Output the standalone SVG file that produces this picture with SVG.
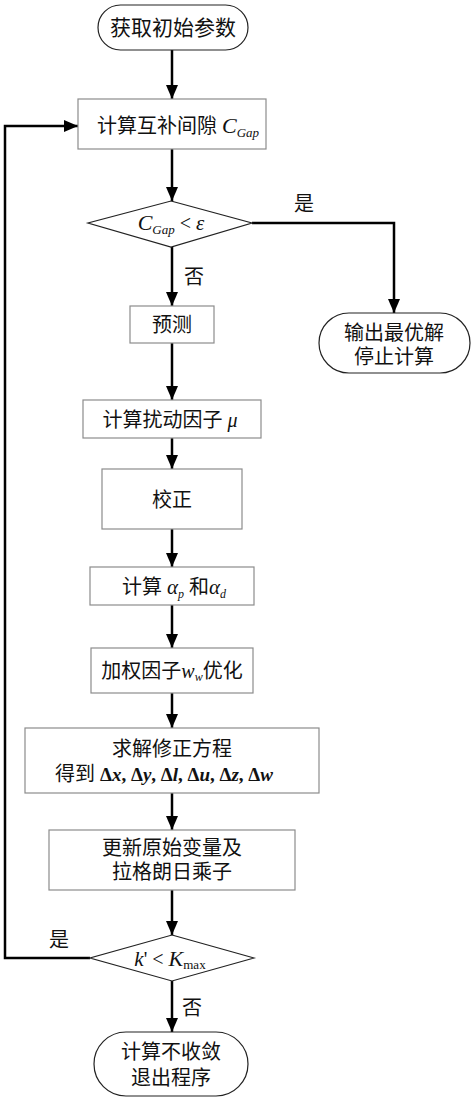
<svg xmlns="http://www.w3.org/2000/svg" width="474" height="1102" viewBox="0 0 474 1102">
<style>
text{font-family:"Liberation Serif","Noto Sans CJK SC",serif;font-size:20px;fill:#111;text-anchor:middle}
.m{font-style:italic}
.sub{font-size:12px;font-style:italic}
.box{fill:#fff;stroke:#8c8c8c;stroke-width:1.2}
.term{fill:#fff;stroke:#222;stroke-width:1.2}
.dia{fill:#fff;stroke:#222;stroke-width:1.2}
.c{fill:none;stroke:#000;stroke-width:2.5;marker-end:url(#a)}
</style>
<defs>
<marker id="a" markerUnits="userSpaceOnUse" markerWidth="14" markerHeight="12" refX="14" refY="6" orient="auto">
<path d="M0,0 L14,6 L0,12 z" fill="#000"/>
</marker>
</defs>
<rect width="474" height="1102" fill="#fff"/>
<g id="connectors">
<line class="c" x1="172" y1="50" x2="172" y2="99"/>
<line class="c" x1="172" y1="149" x2="172" y2="201"/>
<line class="c" x1="172" y1="247" x2="172" y2="306"/>
<polyline class="c" points="252,223 394,223 394,313"/>
<line class="c" x1="172" y1="343" x2="172" y2="400"/>
<line class="c" x1="172" y1="438" x2="172" y2="469"/>
<line class="c" x1="172" y1="529" x2="172" y2="567"/>
<line class="c" x1="172" y1="605" x2="172" y2="648"/>
<line class="c" x1="172" y1="693" x2="172" y2="728"/>
<line class="c" x1="172" y1="793" x2="172" y2="830"/>
<line class="c" x1="172" y1="890" x2="172" y2="935"/>
<polyline class="c" points="90,958 5,958 5,126 78,126"/>
<line class="c" x1="172" y1="981" x2="172" y2="1032"/>
<text x="304" y="211">是</text>
<text x="194" y="284">否</text>
<text x="59" y="947">是</text>
<text x="192" y="1015">否</text>
</g>
<g id="start">
<rect class="term" x="98" y="5" width="150" height="45" rx="22.5"/>
<text x="173" y="35" style="font-size:21px">获取初始参数</text>
</g>
<g id="gap">
<rect class="box" x="78" y="99" width="188" height="50"/>
<text x="178" y="133">计算互补间隙 <tspan class="m" style="font-size:22px">C</tspan><tspan class="sub" dy="4" style="font-size:13px">Gap</tspan></text>
</g>
<g id="check1">
<polygon class="dia" points="171,201 252,223 171,247 88,223"/>
<text x="171" y="230"><tspan class="m" style="font-size:22px">C</tspan><tspan class="sub" dy="4" style="font-size:13px">Gap</tspan><tspan dy="-4"> &lt; </tspan><tspan class="m" style="font-size:21px">ε</tspan></text>
</g>
<g id="output">
<rect class="term" x="319" y="313" width="151" height="60" rx="30"/>
<text x="394" y="340">输出最优解</text>
<text x="394" y="364">停止计算</text>
</g>
<g id="predict">
<rect class="box" x="130" y="306" width="84" height="37"/>
<text x="172" y="332">预测</text>
</g>
<g id="mu">
<rect class="box" x="83" y="400" width="178" height="38"/>
<text x="170" y="427">计算扰动因子 <tspan class="m">μ</tspan></text>
</g>
<g id="correct">
<rect class="box" x="102" y="469" width="140" height="60"/>
<text x="172" y="507">校正</text>
</g>
<g id="alpha">
<rect class="box" x="90" y="567" width="164" height="38"/>
<text x="174" y="594">计算 <tspan class="m" style="font-size:21px">α</tspan><tspan class="sub" dy="4">p</tspan><tspan dy="-4"> 和</tspan><tspan class="m" style="font-size:21px">α</tspan><tspan class="sub" dy="4">d</tspan></text>
</g>
<g id="weight">
<rect class="box" x="91" y="648" width="162" height="45"/>
<text x="172" y="678">加权因子<tspan class="m">w</tspan><tspan class="sub" dy="3">w</tspan><tspan dy="-3">优化</tspan></text>
</g>
<g id="solve">
<rect class="box" x="25" y="728" width="294" height="65"/>
<text x="172" y="756">求解修正方程</text>
<text x="164" y="781">得到 <tspan style="font-weight:bold;font-size:19px">Δ<tspan font-style="italic">x</tspan>, Δ<tspan font-style="italic">y</tspan>, Δ<tspan font-style="italic">l</tspan>, Δ<tspan font-style="italic">u</tspan>, Δ<tspan font-style="italic">z</tspan>, Δ<tspan font-style="italic">w</tspan></tspan></text>
</g>
<g id="update">
<rect class="box" x="49" y="830" width="246" height="60"/>
<text x="172" y="855">更新原始变量及</text>
<text x="172" y="879">拉格朗日乘子</text>
</g>
<g id="check2">
<polygon class="dia" points="172,935 254,958 172,981 90,958"/>
<text x="170" y="966"><tspan class="m" style="font-size:21px">k</tspan><tspan>' &lt; </tspan><tspan class="m" style="font-size:22px">K</tspan><tspan dy="3" style="font-size:13px">max</tspan></text>
</g>
<g id="end">
<rect class="term" x="94" y="1032" width="154" height="64" rx="32"/>
<text x="171" y="1059">计算不收敛</text>
<text x="171" y="1085">退出程序</text>
</g>
</svg>
